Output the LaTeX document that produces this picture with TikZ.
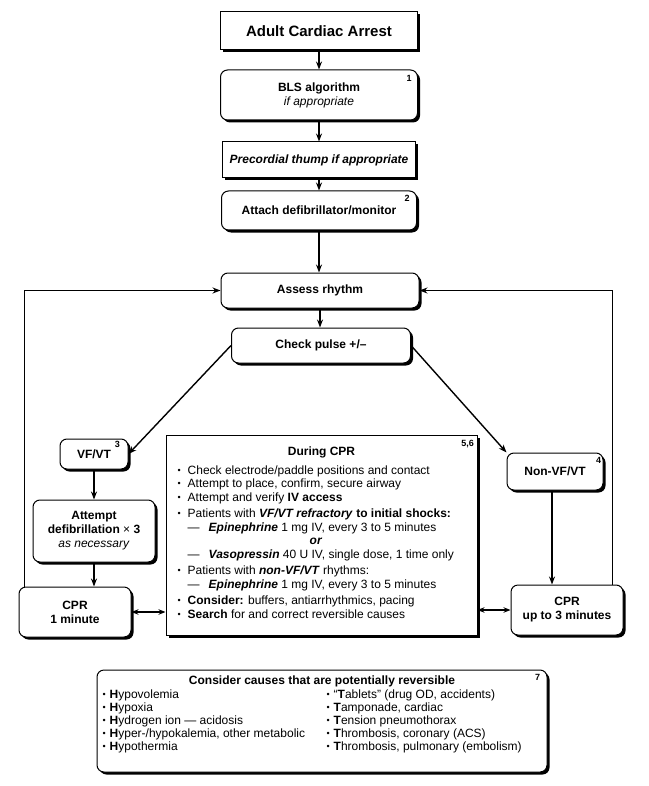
\documentclass[tikz,border=0pt]{standalone}
\usepackage{fontspec}
\setmainfont{Liberation Sans}
\usetikzlibrary{arrows.meta,positioning,calc,shadows}

\newcommand{\smalldot}{\raisebox{1pt}{\fontsize{9}{9}\selectfont•}}
\newcommand{\bul}{\makebox[10pt][l]{\smalldot}}
\newcommand{\cbul}{\makebox[7pt][l]{\smalldot}}
\newcommand{\dsh}{\hspace*{10pt}\makebox[21pt][l]{—}}

\begin{document}
\begin{tikzpicture}[
  x=1pt, y=-1pt,
  font=\fontsize{12}{13.5}\selectfont,
  plate/.style={draw, line width=1pt, fill=white, inner sep=2pt, align=center,
                font=\fontsize{12}{14}\selectfont\bfseries,
                drop shadow={shadow xshift=2.5pt, shadow yshift=-2.5pt,
                             opacity=1, fill=black}},
  card/.style={plate, rounded corners=7pt},
  flow/.style={-{Stealth[length=8pt, width=6pt]}, line width=1.4pt},
  both/.style={{Stealth[length=7pt, width=5.5pt]}-{Stealth[length=7pt, width=5.5pt]},
               line width=1.4pt},
  fnote/.style={font=\fontsize{9}{9}\selectfont\bfseries, inner sep=0pt},
]
\useasboundingbox (0,0) rectangle (648,786);

% ---------------- main column ---------------------------------------
\node[plate, minimum width=197pt, minimum height=38pt,
      font=\fontsize{15}{17}\selectfont\bfseries] (arrest) at (319,31)
      {Adult Cardiac Arrest};
\node[card, minimum width=197pt, minimum height=50pt] (bls) at (319,95)
      {BLS algorithm\\ \textmd{\textit{if appropriate}}};
\node[plate, minimum width=193pt, minimum height=36pt,
      font=\fontsize{12}{14}\selectfont\bfseries\itshape] (thump) at (319,160)
      {Precordial thump if appropriate};
\node[card, minimum width=195pt, minimum height=39pt] (attach) at (319,210.5)
      {Attach defibrillator/monitor};
\node[card, minimum width=198pt, minimum height=35pt] (assess) at (320,290.5)
      {Assess rhythm};
\node[card, minimum width=179pt, minimum height=35pt] (pulse) at (321,345.5)
      {Check pulse +/–};

\node[fnote] (n1) at ([shift={(-9,9)}]bls.north east) {1};
\node[fnote] (n2) at ([shift={(-10,8)}]attach.north east) {2};

\draw[flow] (arrest) -- (bls);
\draw[flow] (bls) -- (thump);
\draw[flow] (thump) -- (attach);
\draw[flow] (attach.south) -- (attach.south |- assess.north);
\draw[flow] (assess.south) -- (assess.south |- pulse.north);

% ---------------- VF/VT branch --------------------------------------
\node[card, minimum width=68pt, minimum height=30pt] (vfvt) at (94,454) {VF/VT};
\node[card, minimum width=122pt, minimum height=62pt] (defib) at (94,531)
      {Attempt\\defibrillation \textmd{×} 3\\ \textmd{\textit{as necessary}}};
\node[card, minimum width=112pt, minimum height=50pt] (cpr1) at (75,612)
      {CPR\\1 minute};
\node[fnote] (n3) at ([shift={(-11,6)}]vfvt.north east) {3};

\draw[flow] (pulse.west) -- (vfvt.east);
\draw[flow] (vfvt) -- (defib);
\draw[flow] (defib.south) -- (defib.south |- cpr1.north);
\draw[flow] ([xshift=6pt]cpr1.north west) |- (assess.west);

% ---------------- non-VF/VT branch ----------------------------------
\node[card, minimum width=96pt, minimum height=37pt] (nonvf) at (555,471.5) {Non-VF/VT};
\node[card, minimum width=112pt, minimum height=50pt] (cpr3) at (567,610)
      {CPR\\up to 3 minutes};
\node[fnote] (n4) at ([shift={(-5,8)}]nonvf.north east) {4};

\draw[flow] (pulse.east) -- (nonvf.north west);
\draw[flow] ([xshift=-3pt]nonvf.south) -- ([xshift=-3pt]nonvf.south |- cpr3.north);
\draw[flow] ([xshift=-11pt]cpr3.north east) |- (assess.east);

% ---------------- during CPR ----------------------------------------
\node[plate, minimum width=311pt, minimum height=200pt] (during) at (321.5,535) {};
\node[font=\fontsize{12}{14}\selectfont\bfseries] (dhead)
      at ([shift={(0,18)}]during.north) {During CPR};
\node[fnote] (n56) at ([shift={(-10,10)}]during.north east) {5,6};
\node[anchor=north west, inner sep=0pt, align=left] (dlist)
      at ([shift={(12,31)}]during.north west)
  {\bul Check electrode/paddle positions and contact\\
   \bul Attempt to place, confirm, secure airway\\
   \bul Attempt and verify \textbf{IV access}\\[3pt]
   \bul Patients with \textbf{\textit{VF/VT refractory}} \textbf{to initial shocks:}\\
   \dsh\textbf{\textit{Epinephrine}} 1 mg IV, every 3 to 5 minutes\\
   \hspace*{132pt}\textbf{\textit{or}}\\
   \dsh\textbf{\textit{Vasopressin}} 40 U IV, single dose, 1 time only\\[3pt]
   \bul Patients with \textbf{\textit{non-VF/VT}} rhythms:\\
   \dsh\textbf{\textit{Epinephrine}} 1 mg IV, every 3 to 5 minutes\\[3pt]
   \bul \textbf{Consider:} buffers, antiarrhythmics, pacing\\
   \bul \textbf{Search} for and correct reversible causes};

\draw[both] (cpr1.east) -- (cpr1.east -| during.west);
\draw[both] (during.east |- cpr3.west) -- (cpr3.west);

% ---------------- reversible causes ---------------------------------
\node[card, minimum width=450pt, minimum height=102pt] (causes) at (322,721) {};
\node[font=\fontsize{12}{14}\selectfont\bfseries] (chead)
      at ([shift={(0,12)}]causes.north) {Consider causes that are potentially reversible};
\node[fnote] (n7) at ([shift={(-10,8)}]causes.north east) {7};
\node[anchor=north west, inner sep=0pt, align=left, font=\fontsize{12}{13}\selectfont]
      (cleft) at ([shift={(6,20)}]causes.north west)
  {\cbul\textbf{H}ypovolemia\\
   \cbul\textbf{H}ypoxia\\
   \cbul\textbf{H}ydrogen ion — acidosis\\
   \cbul\textbf{H}yper-/hypokalemia, other metabolic\\
   \cbul\textbf{H}ypothermia};
\node[anchor=north west, inner sep=0pt, align=left, font=\fontsize{12}{13}\selectfont]
      (cright) at ([shift={(230,20)}]causes.north west)
  {\cbul``\textbf{T}ablets'' (drug OD, accidents)\\
   \cbul\textbf{T}amponade, cardiac\\
   \cbul\textbf{T}ension pneumothorax\\
   \cbul\textbf{T}hrombosis, coronary (ACS)\\
   \cbul\textbf{T}hrombosis, pulmonary (embolism)};

\end{tikzpicture}
\end{document}
